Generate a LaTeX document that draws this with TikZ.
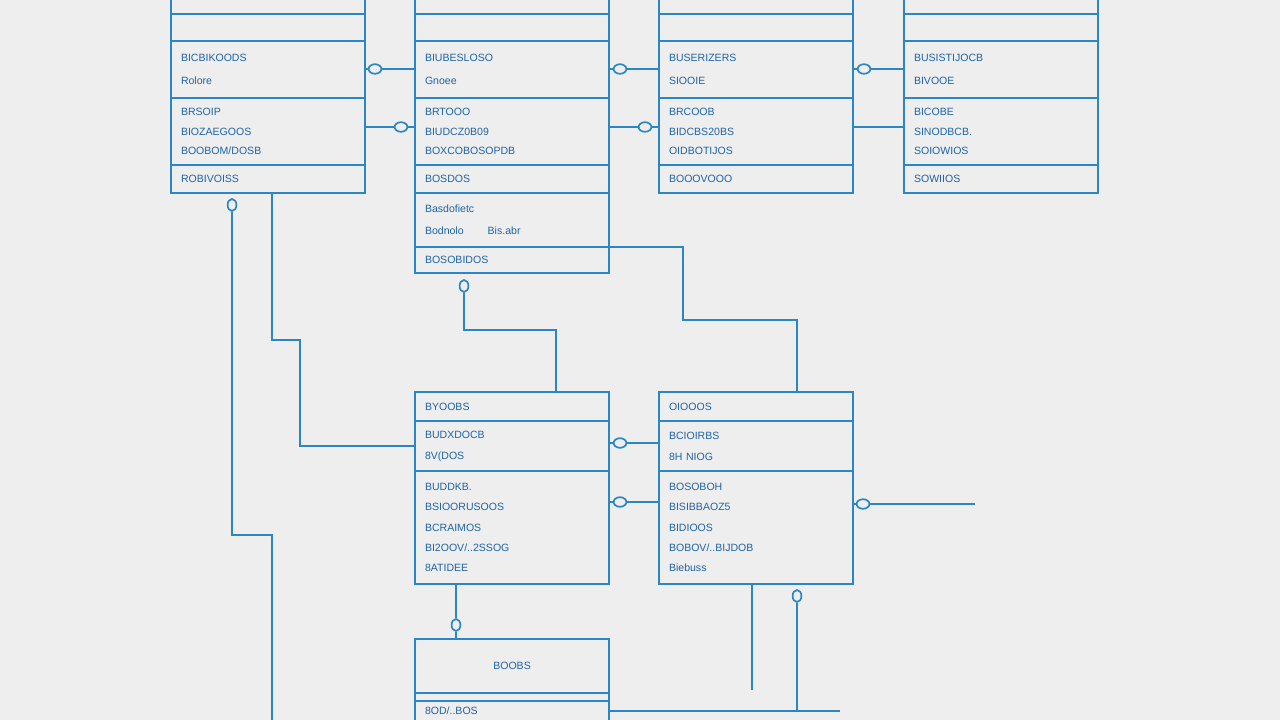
\documentclass[tikz,border=0pt]{standalone}
\usepackage{fontspec}
\setmainfont{Liberation Sans}
\usepackage{xcolor}
\usepackage{tikz}
\usetikzlibrary{shapes.geometric, arrows, positioning, calc}

\definecolor{umlblue}{RGB}{43,134,197}
\definecolor{umltext}{RGB}{30,100,166}
\definecolor{paper}{RGB}{238,238,238}

\begin{document}
\begin{tikzpicture}[x=0.025cm, y=-0.025cm]
    \tikzstyle{cell} = [rectangle, draw=umlblue, line width=1.4pt, fill=paper, text=umltext, font=\fontsize{7.5}{14}\selectfont, text width=4.35cm, inner xsep=0.25cm, inner ysep=0pt, outer sep=0pt, align=left, anchor=north west]
    \tikzstyle{link} = [draw=umlblue, line width=1.2pt]
    \tikzstyle{lolly} = [ellipse, draw=umlblue, line width=1.2pt, fill=paper, minimum width=0.32cm, minimum height=0.24cm, inner sep=0pt]
    \tikzstyle{lollyv} = [lolly, minimum width=0.22cm, minimum height=0.3cm]

    \path[use as bounding box, fill=paper] (0,0) rectangle (1280,720);

    % Class A
    \node[cell, minimum height=0.75cm] (aTop) at (171,-16) {};
    \node[cell, minimum height=0.675cm, below=0pt of aTop] (aName) {};
    \node[cell, minimum height=1.425cm, below=0pt of aName] (aAttr) {BICBIKOODS\\[2.3pt]Rolore};
    \node[cell, minimum height=1.675cm, below=0pt of aAttr] (aOps) {BRSOIP\\BIOZAEGOOS\\BOOBOM/DOSB};
    \node[cell, minimum height=0.7cm, below=0pt of aOps] (aFoot) {ROBIVOISS};

    % Class B
    \node[cell, minimum height=0.75cm] (bTop) at (415,-16) {};
    \node[cell, minimum height=0.675cm, below=0pt of bTop] (bName) {};
    \node[cell, minimum height=1.425cm, below=0pt of bName] (bAttr) {BIUBESLOSO\\[2.3pt]Gnoee};
    \node[cell, minimum height=1.675cm, below=0pt of bAttr] (bOps) {BRTOOO\\BIUDCZ0B09\\BOXCOBOSOPDB};
    \node[cell, minimum height=0.7cm, below=0pt of bOps] (bFoot) {BOSDOS};
    \node[cell, minimum height=1.35cm, below=0pt of bFoot] (bSub) {Basdofietc\\[1.6pt]Bodnolo\hspace{0.6cm}Bis.abr};
    \node[cell, minimum height=0.65cm, below=0pt of bSub] (bEnd) {BOSOBIDOS};

    % Class C
    \node[cell, minimum height=0.75cm] (cTop) at (659,-16) {};
    \node[cell, minimum height=0.675cm, below=0pt of cTop] (cName) {};
    \node[cell, minimum height=1.425cm, below=0pt of cName] (cAttr) {BUSERIZERS\\[2.3pt]SIOOIE};
    \node[cell, minimum height=1.675cm, below=0pt of cAttr] (cOps) {BRCOOB\\BIDCBS20BS\\OIDBOTIJOS};
    \node[cell, minimum height=0.7cm, below=0pt of cOps] (cFoot) {BOOOVOOO};

    % Class D
    \node[cell, minimum height=0.75cm] (dTop) at (904,-16) {};
    \node[cell, minimum height=0.675cm, below=0pt of dTop] (dName) {};
    \node[cell, minimum height=1.425cm, below=0pt of dName] (dAttr) {BUSISTIJOCB\\[2.3pt]BIVOOE};
    \node[cell, minimum height=1.675cm, below=0pt of dAttr] (dOps) {BICOBE\\SINODBCB.\\SOIOWIOS};
    \node[cell, minimum height=0.7cm, below=0pt of dOps] (dFoot) {SOWIIOS};

    % Class M
    \node[cell, minimum height=0.725cm] (mHead) at (415,392) {BYOOBS};
    \node[cell, minimum height=1.25cm, below=0pt of mHead] (mAttr) {BUDXDOCB\\[1pt]8V(DOS};
    \node[cell, minimum height=2.825cm, below=0pt of mAttr] (mOps) {BUDDKB.\\[0.5pt]BSIOORUSOOS\\[0.5pt]BCRAIMOS\\[0.5pt]BI2OOV/..2SSOG\\[0.5pt]8ATIDEE};

    % Class N
    \node[cell, minimum height=0.725cm] (nHead) at (659,392) {OIOOOS};
    \node[cell, minimum height=1.25cm, below=0pt of nHead] (nAttr) {BCIOIRBS\\[1pt]8H NIOG};
    \node[cell, minimum height=2.825cm, below=0pt of nAttr] (nOps) {BOSOBOH\\[0.5pt]BISIBBAOZ5\\[0.5pt]BIDIOOS\\[0.5pt]BOBOV/..BIJDOB\\[0.5pt]Biebuss};

    % Class P
    \node[cell, align=center, minimum height=1.35cm] (pHead) at (415,639) {BOOBS};
    \node[cell, minimum height=0.2cm, below=0pt of pHead] (pMid) {};
    \node[cell, minimum height=0.5cm, below=0pt of pMid] (pBody) {8OD/..BOS};

    % Lollipops between top classes
    \node[lolly] (l1) at (375,69) {};
    \node[lolly] (l2) at (401,127) {};
    \node[lolly] (l3) at (620,69) {};
    \node[lolly] (l4) at (645,127) {};
    \node[lolly] (l5) at (864,69) {};
    \draw[link] (aAttr.east |- l1) -- (l1) -- (bAttr.west |- l1);
    \draw[link] (aOps.east |- l2) -- (l2) -- (bOps.west |- l2);
    \draw[link] (bAttr.east |- l3) -- (l3) -- (cAttr.west |- l3);
    \draw[link] (bOps.east |- l4) -- (l4) -- (cOps.west |- l4);
    \draw[link] (cAttr.east |- l5) -- (l5) -- (dAttr.west |- l5);
    \draw[link] (cOps.east |- l4) -- (dOps.west |- l4);

    % Links going down
    \node[lollyv] (l6) at (232,205) {};
    \coordinate (endA) at (272,725);
    \draw[link] (l6) -- ++(0,330) -| (endA);
    \draw[link] ([xshift=1mm]aFoot.south) -- ++(0,147) -- ++(28,0) |- (mAttr.west);
    \node[lollyv] (l7) at (464,286) {};
    \draw[link] (l7) -- ++(0,44) -| ([xshift=1.1cm]mHead.north);
    \draw[link] (bSub.south east) -- ++(74,0) -- ++(0,73) -| ([xshift=1.025cm]nHead.north);

    % Lollipops between middle classes
    \node[lolly] (l8) at (620,443) {};
    \node[lolly] (l9) at (620,502) {};
    \node[lolly] (l10) at (863,504) {};
    \coordinate (endB) at (975,504);
    \draw[link] (mAttr.east |- l8) -- (l8) -- (nAttr.west |- l8);
    \draw[link] (mOps.east |- l9) -- (l9) -- (nOps.west |- l9);
    \draw[link] (nOps.east |- l10) -- (l10) -- (endB);

    % Links to the bottom class
    \node[lollyv] (l11) at (456,625) {};
    \draw[link] (mOps.south -| l11) -- (l11) -- (pHead.north -| l11);
    \coordinate (endC) at (752,690);
    \draw[link] (nOps.south -| endC) -- (endC);
    \node[lollyv] (l12) at (797,596) {};
    \coordinate (endD) at (840,712);
    \draw[link] (l12) |- (pBody.east);
    \draw[link] (pBody.east -| l12) -- (pBody.east -| endD);
\end{tikzpicture}
\end{document}
